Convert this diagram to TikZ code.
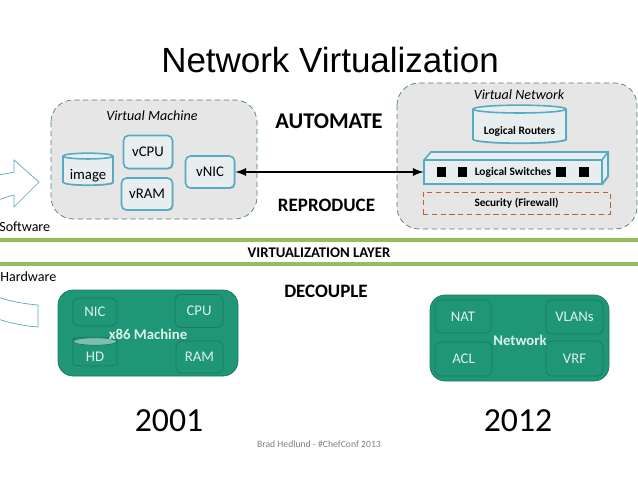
\documentclass[tikz,border=0pt]{standalone}
\usepackage{fontspec}
\setmainfont{Carlito}
\newfontfamily\titlefont{Liberation Sans}
\usetikzlibrary{shapes.geometric,shadows}
\definecolor{vmgray}{HTML}{E6E6E6}
\definecolor{vmdash}{HTML}{4E7F78}
\definecolor{iceblue}{HTML}{55ABC2}
\definecolor{icefill}{HTML}{E8EEF0}
\definecolor{teal}{HTML}{1F9676}
\definecolor{tealdark}{HTML}{1A7B62}
\definecolor{tealend}{HTML}{7CBFAB}
\definecolor{tealtext}{HTML}{DDF3EA}
\definecolor{layergreen}{HTML}{96BE5C}
\definecolor{fwred}{HTML}{C0603A}
\tikzset{
  vbox/.style={draw=vmdash, densely dashed, fill=vmgray, rounded corners=0.44cm},
  softshadow/.style={drop shadow={shadow xshift=0.02cm, shadow yshift=-0.02cm, fill=black, opacity=0.25}},
  vpart/.style={draw=iceblue, line width=0.9pt, fill=icefill, rounded corners=0.1cm, softshadow, font=\fontsize{8.4}{10}\selectfont},
  vcyl/.style={cylinder, shape border rotate=90, draw=iceblue, line width=0.9pt, fill=icefill, softshadow, inner sep=0pt},
  hwbox/.style={draw=tealdark, fill=teal, rounded corners=0.3cm},
  hwpart/.style={draw=tealdark, fill=teal, rounded corners=0.12cm, text=tealtext, font=\fontsize{8.4}{10}\selectfont},
  hwlabel/.style={text=tealtext, font=\fontsize{8.4}{10}\selectfont\bfseries},
  keyword/.style={font=\fontsize{10.8}{13}\selectfont\bfseries},
  port/.style={fill=black, minimum size=0.19cm, inner sep=0pt},
  layerline/.style={draw=layergreen, line width=0.07cm},
  year/.style={font=\fontsize{19.2}{22}\selectfont}
}
\begin{document}
\begin{tikzpicture}[x=0.02cm,y=-0.02cm]
\useasboundingbox (0,0) rectangle (638,493);
\node[font=\titlefont\fontsize{19.9}{24}\selectfont] (title) at (330,60) {Network Virtualization};
% software side
\draw[vbox] (51,100) rectangle (257,219);
\node[font=\fontsize{8}{10}\selectfont\itshape] (vmlabel) at (152,116) {Virtual Machine};
\node[vcyl, minimum width=1cm, minimum height=0.64cm, aspect=0.16, font=\fontsize{8.4}{10}\selectfont] (image) at (88,171) {\raisebox{-0.07cm}[0.7em][0pt]{image}};
\node[vpart, minimum width=0.98cm, minimum height=0.66cm] (vcpu) at (148,152) {vCPU};
\node[vpart, minimum width=1.02cm, minimum height=0.64cm] (vram) at (147,194) {vRAM};
\node[vpart, minimum width=0.98cm, minimum height=0.64cm] (vnic) at (210,172) {vNIC};
\draw[vbox] (397,83) rectangle (637,229);
\node[font=\fontsize{8}{10}\selectfont\itshape] (vnlabel) at (519,95) {Virtual Network};
\node[vcyl, minimum width=1.86cm, minimum height=0.76cm, aspect=0.11, font=\fontsize{6.5}{8}\selectfont\bfseries] (routers) at (519.5,126.5) {\raisebox{-0.09cm}[0.7em][0pt]{Logical Routers}};
% switch box with its depth
\draw[draw=iceblue, line width=0.9pt, fill=icefill, softshadow] (424,160) -- (431,152) -- (608,152) -- (608,176) -- (602,184) -- (424,184) -- cycle;
\draw[draw=iceblue, line width=0.9pt] (424,160) -- (602,160) -- (608,152) (602,160) -- (602,184);
\node[font=\fontsize{6.5}{8}\selectfont\bfseries, minimum width=3.56cm, minimum height=0.48cm, inner sep=0pt] (switches) at (513,172) {Logical Switches};
\foreach \portx/\portname in {441.5/pa,462.5/pb,561/pc,584/pd}
  \node[port] (\portname) at (\portx,172) {};
\node[draw=fwred, densely dashed, font=\fontsize{6.4}{8}\selectfont\bfseries, minimum width=3.74cm, minimum height=0.44cm, inner sep=0pt] (firewall) at (516.5,203) {Security (Firewall)};
\draw[black, line width=0.04cm, latex-latex] (vnic.east) -- (switches.west);
\node[keyword, font=\fontsize{12.8}{15}\selectfont\bfseries] (automate) at (329,121) {AUTOMATE};
\node[keyword] (reproduce) at (326.5,205) {REPRODUCE};
\node[keyword] (decouple) at (326,291) {DECOUPLE};
% big arrow split by the layer
\draw[draw=iceblue, fill=white] (-2,175) .. controls (5,174) and (10,173) .. (14,172) -- (14,160) -- (39,182) -- (14,207) -- (14,195) .. controls (9,196) and (4,198) .. (-2,200);
\draw[draw=iceblue, fill=white] (-2,297) .. controls (12,302) and (26,304) .. (38,305) -- (38,327) .. controls (24,326) and (10,323) .. (-2,319);
\node[anchor=west, inner sep=0pt, font=\fontsize{8}{10}\selectfont] (software) at (-1,227) {Software};
\node[anchor=west, inner sep=0pt, font=\fontsize{8}{10}\selectfont] (hardware) at (0,277) {Hardware};
% layer
\draw[layerline] (0,240) -- (638,240);
\draw[layerline] (0,264) -- (638,264);
\node[font=\fontsize{8.4}{10}\selectfont\bfseries] (layer) at (319,253) {VIRTUALIZATION LAYER};
% hardware side
\draw[hwbox] (58,290) rectangle (238,376);
\node[hwpart, minimum width=0.88cm, minimum height=0.56cm] (nic) at (95,312) {NIC};
\node[hwpart, minimum width=0.96cm, minimum height=0.66cm] (cpu) at (199,311) {CPU};
\node[cylinder, shape border rotate=90, draw=tealdark, fill=teal, text=tealtext, minimum width=0.88cm, minimum height=0.58cm, aspect=0.16, inner sep=0pt, font=\fontsize{8.4}{10}\selectfont] (hd) at (95,352.5) {\raisebox{-0.07cm}[0.7em][0pt]{HD}};
\node[ellipse, draw=tealdark, fill=tealend, minimum width=0.88cm, minimum height=0.15cm, inner sep=0pt] (hdtop) at (95,341.5) {};
\node[hwpart, minimum width=0.94cm, minimum height=0.64cm] (ram) at (199.5,357) {RAM};
\node[hwlabel] (x86) at (148,334) {x86 Machine};
\draw[hwbox] (430,295) rectangle (609,381);
\node[hwpart, minimum width=1.12cm, minimum height=0.66cm] (nat) at (463,316.5) {NAT};
\node[hwpart, minimum width=1.14cm, minimum height=0.68cm] (acl) at (463.5,359) {ACL};
\node[hwpart, minimum width=1.14cm, minimum height=0.68cm] (vlans) at (574.5,317) {VLANs};
\node[hwpart, minimum width=1.14cm, minimum height=0.7cm] (vrf) at (574.5,358.5) {VRF};
\node[hwlabel] (network) at (520,340) {Network};
\node[year] (ya) at (169,421) {2001};
\node[year] (yb) at (518,421) {2012};
\node[text=gray, font=\fontsize{5.5}{7}\selectfont] (credit) at (319,444) {Brad Hedlund - \#ChefConf 2013};
\end{tikzpicture}
\end{document}
